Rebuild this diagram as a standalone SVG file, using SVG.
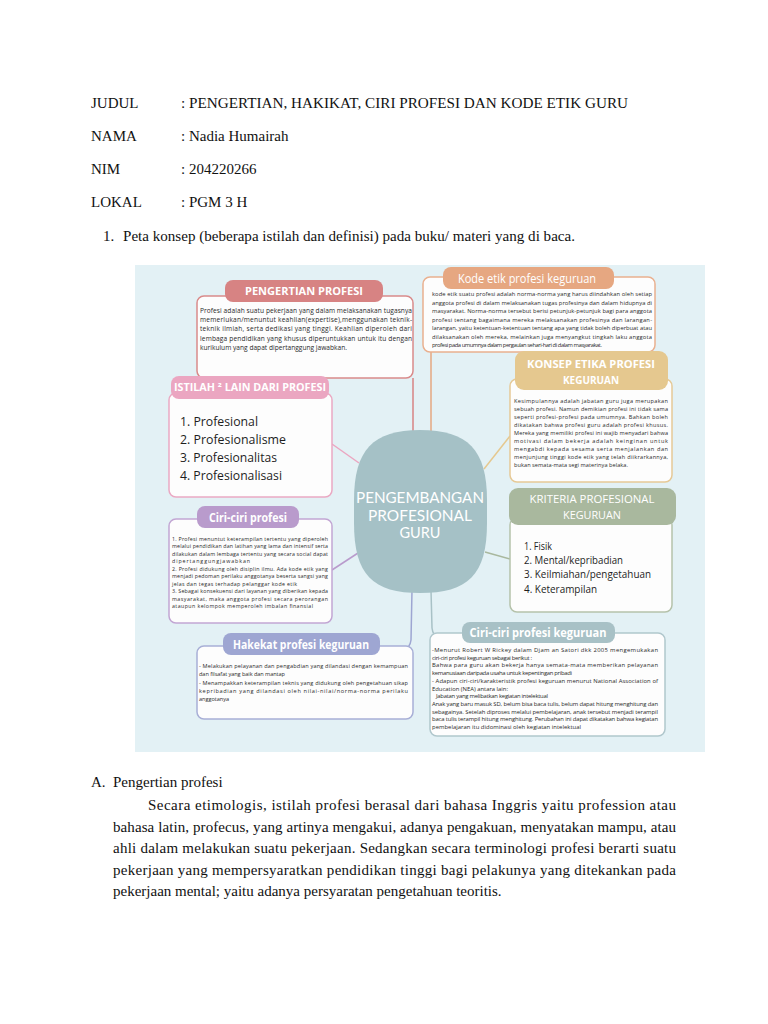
<svg xmlns="http://www.w3.org/2000/svg" width="768" height="1024" viewBox="0 0 768 1024">
<style>
.doc{font-family:"Liberation Serif","Times New Roman",serif;font-size:15px;fill:#111}
.b{fill:#fdfdfd;stroke-width:1.5}
.hd{font-family:"Open Sans","Liberation Sans",sans-serif;font-weight:700;fill:#fff;text-anchor:middle}
.hl{font-family:"Open Sans","Liberation Sans",sans-serif;font-weight:400;fill:#fff;text-anchor:middle}
.t{font-family:"Open Sans","Liberation Sans",sans-serif;fill:#2a2a2a}
.li{font-family:"Open Sans","Liberation Sans",sans-serif;fill:#1e1e1e}
.ctr{font-family:"Lato","Open Sans",sans-serif;font-size:14.5px;fill:#fff;text-anchor:middle}
.c{fill:none;stroke-width:1.5}
</style>
<rect width="768" height="1024" fill="#ffffff"/>
<g id="doc-header">
<text class="doc" x="91" y="108">JUDUL</text>
<text class="doc" x="181" y="108" textLength="447" lengthAdjust="spacingAndGlyphs">: PENGERTIAN, HAKIKAT, CIRI PROFESI DAN KODE ETIK GURU</text>
<text class="doc" x="91" y="141">NAMA</text>
<text class="doc" x="181" y="141">: Nadia Humairah</text>
<text class="doc" x="91" y="174">NIM</text>
<text class="doc" x="181" y="174">: 204220266</text>
<text class="doc" x="91" y="207">LOKAL</text>
<text class="doc" x="181" y="207">: PGM 3 H</text>
<text class="doc" x="103" y="241">1.</text>
<text class="doc" x="123" y="241" textLength="452" lengthAdjust="spacingAndGlyphs">Peta konsep (beberapa istilah dan definisi) pada buku/ materi yang di baca.</text>
</g>
<rect x="135" y="265" width="570" height="487" fill="#e3f1f5"/>
<g id="connectors">
<line class="c" stroke="#d78383" x1="413" y1="378" x2="413" y2="434"/>
<line class="c" stroke="#e6a781" x1="431" y1="352" x2="431" y2="434"/>
<line class="c" stroke="#eba6c1" x1="332" y1="444" x2="359" y2="463"/>
<line class="c" stroke="#e5c88f" x1="510" y1="436" x2="484" y2="469"/>
<line class="c" stroke="#a9b89e" x1="485" y1="552" x2="510" y2="559"/>
<line class="c" stroke="#b99bcc" x1="358" y1="553" x2="332" y2="570"/>
<path class="c" stroke="#9ea6d2" d="M412 590 L411 640 Q410 648 404 649"/>
<path class="c" stroke="#a8c1c6" d="M431 590 L432 628 Q433 636 438 637"/>
</g>
<g id="center">
<path d="M420 430 C468 430 487 450 487 500 L487 523 C487 575 468 593 420 593 C373 593 354 575 354 523 L354 500 C354 450 373 430 420 430 Z" fill="#a5c1c6"/>
<text class="ctr" x="420" y="503" textLength="128" lengthAdjust="spacingAndGlyphs">PENGEMBANGAN</text>
<text class="ctr" x="420" y="520.5" textLength="104" lengthAdjust="spacingAndGlyphs">PROFESIONAL</text>
<text class="ctr" x="420" y="537.5" textLength="41" lengthAdjust="spacingAndGlyphs">GURU</text>
</g>
<g id="pengertian-profesi">
<rect class="b" x="197" y="296" width="216" height="82" rx="7" stroke="#d98a8a"/>
<rect x="225" y="280" width="158" height="22" rx="8" fill="#d78383"/>
<text class="hd" x="304" y="295" font-size="11" textLength="118" lengthAdjust="spacingAndGlyphs">PENGERTIAN PROFESI</text>
<g class="t" font-size="6.6">
<text x="200" y="312.5" textLength="212" lengthAdjust="spacing">Profesi adalah suatu pekerjaan yang dalam melaksanakan tugasnya</text>
<text x="200" y="321.8" textLength="212" lengthAdjust="spacing">memerlukan/menuntut  keahlian(expertise),menggunakan  teknik-</text>
<text x="200" y="331.2" textLength="212" lengthAdjust="spacing">teknik ilmiah, serta dedikasi yang tinggi. Keahlian diperoleh dari</text>
<text x="200" y="340.6" textLength="212" lengthAdjust="spacing">lembaga pendidikan yang khusus diperuntukkan untuk itu dengan</text>
<text x="200" y="350" textLength="147" lengthAdjust="spacing">kurikulum yang dapat dipertanggung jawabkan.</text>
</g>
</g>
<g id="kode-etik">
<rect class="b" x="423" y="277" width="232" height="75" rx="7" stroke="#e9b08f"/>
<rect x="443" y="267" width="171" height="22" rx="8" fill="#e6a781"/>
<text class="hl" x="527" y="283" font-size="12" textLength="138" lengthAdjust="spacingAndGlyphs">Kode etik profesi keguruan</text>
<g class="t" font-size="5.8">
<text x="432" y="296" textLength="220" lengthAdjust="spacing">kode etik suatu profesi adalah norma-norma yang harus diindahkan oleh setiap</text>
<text x="432" y="304.5" textLength="220" lengthAdjust="spacing">anggota profesi di dalam melaksanakan tugas profesinya dan dalam hidupnya di</text>
<text x="432" y="313" textLength="220" lengthAdjust="spacing">masyarakat. Norma-norma tersebut berisi petunjuk-petunjuk bagi para anggota</text>
<text x="432" y="321.5" textLength="220" lengthAdjust="spacing">profesi tentang bagaimana mereka melaksanakan profesinya dan larangan-</text>
<text x="432" y="330" textLength="220" lengthAdjust="spacing">larangan, yaitu ketentuan-ketentuan tentang apa yang tidak boleh diperbuat atau</text>
<text x="432" y="338.5" textLength="220" lengthAdjust="spacing">dilaksanakan oleh mereka, melainkan juga menyangkut tingkah laku anggota</text>
<text x="432" y="347" textLength="170" lengthAdjust="spacing">profesi pada umumnya dalam pergaulan sehari-hari di dalam masyarakat.</text>
</g>
</g>
<g id="konsep-etika">
<rect class="b" x="510" y="379" width="162" height="103" rx="7" stroke="#e6c996"/>
<rect x="515" y="351" width="153" height="39" rx="9" fill="#e5c88f"/>
<text class="hd" x="591" y="368" font-size="11" textLength="128" lengthAdjust="spacingAndGlyphs">KONSEP ETIKA PROFESI</text>
<text class="hd" x="591" y="383.5" font-size="11" textLength="56" lengthAdjust="spacingAndGlyphs">KEGURUAN</text>
<g class="t" font-size="5.6">
<text x="514" y="402.5" textLength="154" lengthAdjust="spacing">Kesimpulannya adalah jabatan guru juga merupakan</text>
<text x="514" y="410.5" textLength="154" lengthAdjust="spacing">sebuah profesi. Namun demikian profesi ini tidak sama</text>
<text x="514" y="418.5" textLength="154" lengthAdjust="spacing">seperti profesi-profesi pada umumnya. Bahkan boleh</text>
<text x="514" y="426.5" textLength="154" lengthAdjust="spacing">dikatakan bahwa profesi guru adalah profesi khusus.</text>
<text x="514" y="434.5" textLength="154" lengthAdjust="spacing">Mereka yang memiliki profesi ini wajib menyadari bahwa</text>
<text x="514" y="442.5" textLength="154" lengthAdjust="spacing">motivasi dalam bekerja adalah keinginan untuk</text>
<text x="514" y="450.5" textLength="154" lengthAdjust="spacing">mengabdi kepada sesama serta menjalankan dan</text>
<text x="514" y="458.5" textLength="154" lengthAdjust="spacing">menjunjung tinggi kode etik yang telah diikrarkannya,</text>
<text x="514" y="466.5" textLength="114" lengthAdjust="spacing">bukan semata-mata segi materinya belaka.</text>
</g>
</g>
<g id="istilah-lain">
<rect class="b" x="169" y="393" width="163" height="104" rx="7" stroke="#eaa9c3"/>
<rect x="171" y="376" width="158" height="23" rx="8" fill="#eba6c1"/>
<text class="hd" x="250" y="391" font-size="10" textLength="152" lengthAdjust="spacingAndGlyphs">ISTILAH ² LAIN DARI PROFESI</text>
<g class="li" font-size="13">
<text x="180" y="426" textLength="78" lengthAdjust="spacingAndGlyphs">1.  Profesional</text>
<text x="180" y="444" textLength="106" lengthAdjust="spacingAndGlyphs">2. Profesionalisme</text>
<text x="180" y="462" textLength="97" lengthAdjust="spacingAndGlyphs">3. Profesionalitas</text>
<text x="180" y="480" textLength="102" lengthAdjust="spacingAndGlyphs">4. Profesionalisasi</text>
</g>
</g>
<g id="kriteria-profesional">
<rect class="b" x="510" y="518" width="162" height="94" rx="7" stroke="#b5c2aa"/>
<rect x="509" y="488" width="167" height="37" rx="9" fill="#a9b89e"/>
<text class="hl" x="592" y="503" font-size="11" textLength="125" lengthAdjust="spacingAndGlyphs">KRITERIA PROFESIONAL</text>
<text class="hl" x="592" y="519" font-size="11" textLength="58" lengthAdjust="spacingAndGlyphs">KEGURUAN</text>
<g class="li" font-size="10.5">
<text x="524" y="550.3" textLength="28" lengthAdjust="spacingAndGlyphs">1. Fisik</text>
<text x="524" y="564.3" textLength="99" lengthAdjust="spacingAndGlyphs">2. Mental/kepribadian</text>
<text x="524" y="578.3" textLength="127" lengthAdjust="spacingAndGlyphs">3. Keilmiahan/pengetahuan</text>
<text x="524" y="592.5" textLength="73" lengthAdjust="spacingAndGlyphs">4. Keterampilan</text>
</g>
</g>
<g id="ciri-ciri-profesi">
<rect class="b" x="169" y="519" width="163" height="104" rx="7" stroke="#c2a6d3"/>
<rect x="197" y="506" width="102" height="22" rx="8" fill="#b99bcc"/>
<text class="hd" x="248" y="521.5" font-size="12" textLength="78" lengthAdjust="spacingAndGlyphs">Ciri-ciri profesi</text>
<g class="t" font-size="5.3">
<text x="172" y="540.5" textLength="156" lengthAdjust="spacing">1. Profesi menuntut keterampilan tertentu yang diperoleh</text>
<text x="172" y="548" textLength="156" lengthAdjust="spacing">melalui pendidikan dan latihan yang lama dan intensif serta</text>
<text x="172" y="555.5" textLength="156" lengthAdjust="spacing">dilakukan dalam lembaga tertentu yang secara social dapat</text>
<text x="172" y="563" textLength="78" lengthAdjust="spacing">dipertanggungjawabkan</text>
<text x="172" y="570.5" textLength="156" lengthAdjust="spacing">2. Profesi didukung oleh  disiplin ilmu. Ada kode etik yang</text>
<text x="172" y="578" textLength="156" lengthAdjust="spacing">menjadi pedoman perilaku anggotanya beserta sangsi yang</text>
<text x="172" y="585.5" textLength="125" lengthAdjust="spacing">jelas dan tegas terhadap pelanggar kode etik</text>
<text x="172" y="593" textLength="156" lengthAdjust="spacing">3. Sebagai konsekuensi dari layanan yang diberikan kepada</text>
<text x="172" y="600.5" textLength="156" lengthAdjust="spacing">masyarakat, maka anggota profesi secara perorangan</text>
<text x="172" y="608" textLength="141" lengthAdjust="spacing">ataupun kelompok memperoleh imbalan finansial</text>
</g>
</g>
<g id="hakekat-profesi">
<rect class="b" x="197" y="646" width="216" height="73" rx="7" stroke="#a8afd6"/>
<rect x="223" y="633" width="157" height="22" rx="8" fill="#9ea6d2"/>
<text class="hd" x="301" y="649" font-size="12" textLength="136" lengthAdjust="spacingAndGlyphs">Hakekat profesi keguruan</text>
<g class="t" font-size="5.6">
<text x="199" y="668" textLength="209" lengthAdjust="spacing">- Melakukan pelayanan dan pengabdian yang dilandasi dengan kemampuan</text>
<text x="199" y="676.3" textLength="86" lengthAdjust="spacing">dan filsafat yang baik dan mantap</text>
<text x="199" y="684.7" textLength="209" lengthAdjust="spacing">- Menampakkan keterampilan teknis yang didukung oleh pengetahuan sikap</text>
<text x="199" y="693" textLength="209" lengthAdjust="spacing">kepribadian   yang   dilandasi   oleh   nilai-nilai/norma-norma   perilaku</text>
<text x="199" y="701.3" textLength="30" lengthAdjust="spacing">anggotanya</text>
</g>
</g>
<g id="ciri-ciri-profesi-keguruan">
<rect class="b" x="430" y="633" width="235" height="103" rx="7" stroke="#b0c7cc"/>
<rect x="462" y="622" width="153" height="21" rx="8" fill="#a8c1c6"/>
<text class="hd" x="538" y="636.5" font-size="12" textLength="137" lengthAdjust="spacingAndGlyphs">Ciri-ciri profesi keguruan</text>
<g class="t" font-size="5.9">
<text x="432" y="652" textLength="226" lengthAdjust="spacing">-Menurut Robert W Rickey dalam Djam an Satori dkk 2005 mengemukakan</text>
<text x="432" y="659.7" textLength="100" lengthAdjust="spacing">ciri-ciri profesi keguruan sebagai berikut :</text>
<text x="432" y="667.4" textLength="226" lengthAdjust="spacing">Bahwa para guru akan bekerja hanya semata-mata memberikan pelayanan</text>
<text x="432" y="675.1" textLength="140" lengthAdjust="spacing">kemanusiaan daripada usaha untuk kepentingan pribadi</text>
<text x="432" y="682.8" textLength="226" lengthAdjust="spacing">-  Adapun ciri-ciri/karakteristik profesi keguruan menurut National Association of</text>
<text x="432" y="690.5" textLength="76" lengthAdjust="spacing">Education (NEA) antara lain:</text>
<text x="436" y="698.2" textLength="112" lengthAdjust="spacing">Jabatan yang melibatkan kegiatan intelektual</text>
<text x="432" y="705.9" textLength="226" lengthAdjust="spacing">Anak yang baru masuk SD, belum bisa baca tulis, belum dapat hitung menghitung dan</text>
<text x="432" y="713.6" textLength="226" lengthAdjust="spacing">sebagainya. Setelah diproses melalui pembelajaran, anak tersebut menjadi terampil</text>
<text x="432" y="721.3" textLength="226" lengthAdjust="spacing">baca tulis terampil hitung menghitung. Perubahan ini dapat dikatakan bahwa kegiatan</text>
<text x="432" y="729" textLength="149" lengthAdjust="spacing">pembelajaran itu didominasi oleh kegiatan intelektual</text>
</g>
</g>
<g id="doc-body">
<text class="doc" x="91" y="787">A.</text>
<text class="doc" x="113" y="787">Pengertian profesi</text>
<text class="doc" x="148" y="810" textLength="528" lengthAdjust="spacing">Secara etimologis, istilah profesi berasal dari bahasa Inggris yaitu profession atau</text>
<text class="doc" x="113" y="831.5" textLength="563" lengthAdjust="spacing">bahasa latin, profecus, yang artinya mengakui, adanya pengakuan, menyatakan mampu, atau</text>
<text class="doc" x="113" y="853" textLength="563" lengthAdjust="spacing">ahli dalam melakukan suatu pekerjaan. Sedangkan secara terminologi profesi berarti suatu</text>
<text class="doc" x="113" y="874.5" textLength="563" lengthAdjust="spacing">pekerjaan yang mempersyaratkan pendidikan tinggi bagi pelakunya yang ditekankan pada</text>
<text class="doc" x="113" y="896">pekerjaan mental; yaitu adanya persyaratan pengetahuan teoritis.</text>
</g>
</svg>
